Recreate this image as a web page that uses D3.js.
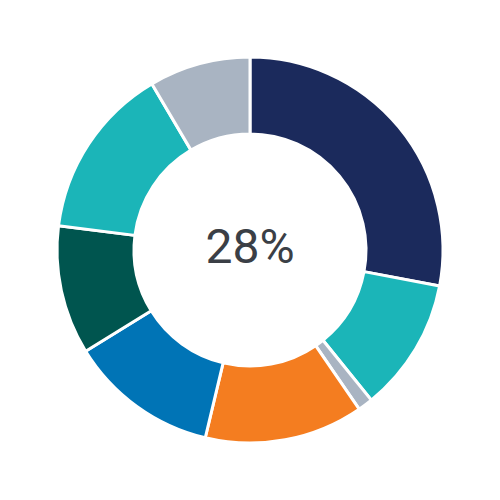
<!DOCTYPE html>
<html>
<head>
<script src="https://d3js.org/d3.v7.min.js"></script>
<style>
  body { margin: 0; background: #fff; }
</style>
</head>
<body>
<svg id="chart" width="500" height="500"></svg>
<script>
  var labels = ['A', 'B', 'C', 'D', 'E', 'F', 'G', 'H'];
  var values = [28, 11.2, 1.25, 13.3, 12.5, 10.8, 14.5, 8.5];
  var colors = ['#1b2a5c', '#1bb5b8', '#a9b4c2', '#f47d20', '#0074b6', '#00554f', '#1bb5b8', '#a9b4c2'];
  var centerText = '28%';

  var svg = d3.select('#chart');
  var g = svg.append('g').attr('transform', 'translate(250,250)');

  var pie = d3.pie().sort(null).value(function(d) { return d; });
  var arc = d3.arc().innerRadius(116).outerRadius(193);

  g.selectAll('path')
    .data(pie(values))
    .enter().append('path')
      .attr('d', arc)
      .attr('fill', function(d, i) { return colors[i]; })
      .attr('stroke', '#fff')
      .attr('stroke-width', 3);

  g.append('text')
    .attr('text-anchor', 'middle')
    .attr('y', 13)
    .style('font-family', 'Roboto, "Open Sans", sans-serif')
    .style('font-size', '48px')
    .style('fill', '#3b3f46')
    .text(centerText);
</script>
</body>
</html>
